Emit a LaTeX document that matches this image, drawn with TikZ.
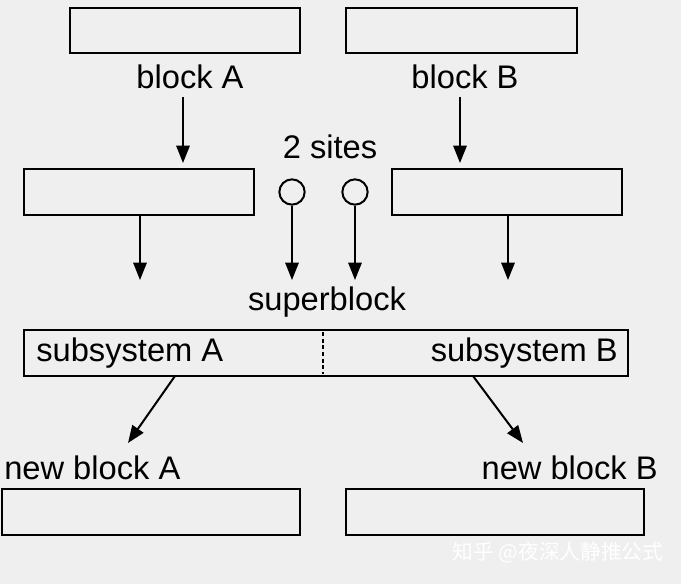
\documentclass[tikz,border=0pt]{standalone}
\usepackage{fontspec}
\setmainfont{Liberation Sans}
\newfontfamily\cjk{Noto Sans CJK SC}
\usetikzlibrary{arrows.meta}
\definecolor{bg}{HTML}{EFEFEF}
\tikzset{x=0.75pt,y=-0.75pt,
  blk/.style={draw,line width=1.5pt,fill=bg},
  arr/.style={line width=1.5pt,-{Triangle[length=13pt,width=10pt]}},
  lbl/.style={font=\fontsize{24.5}{28}\selectfont,inner sep=0pt}}
\begin{document}
\begin{tikzpicture}
\fill[bg] (0,0) rectangle (681,584);
\useasboundingbox (0,0) rectangle (681,584);
\node[blk,minimum width=172pt,minimum height=34pt] (tA) at (185,30.5) {};
\node[blk,minimum width=173pt,minimum height=34pt] (tB) at (461.5,30.5) {};
\node[lbl] (lA) at (190,77) {block A};
\node[lbl] (lB) at (465,77) {block B};
\coordinate (aA1) at (183,97); \coordinate (aA2) at (183,163);
\coordinate (aB1) at (460,97); \coordinate (aB2) at (460,163);
\draw[arr] (aA1)--(aA2); \draw[arr] (aB1)--(aB2);
\node[lbl] (sites) at (330,147) {2 sites};
\node[blk,minimum width=172.5pt,minimum height=34.5pt] (mA) at (139,192) {};
\node[blk,minimum width=172.5pt,minimum height=34.5pt] (mB) at (507,192) {};
\node[draw,line width=1.5pt,circle,minimum size=19pt,inner sep=0pt] (c1) at (292,192) {};
\node[draw,line width=1.5pt,circle,minimum size=19pt,inner sep=0pt] (c2) at (355,192) {};
\coordinate (e1) at (140,280); \coordinate (e2) at (292,280);
\coordinate (e3) at (355,280); \coordinate (e4) at (508,280);
\draw[arr] (140,215)--(e1);
\draw[arr] (c1)--(e2);
\draw[arr] (c2)--(e3);
\draw[arr] (508,215)--(e4);
\node[lbl] (sb) at (327,302) {superblock};
\node[blk,minimum width=453pt,minimum height=34.5pt] (sub) at (326,353) {};
\draw[line width=1.2pt,dash pattern=on 3pt off 2pt] (323,332)--(323,374);
\node[lbl,anchor=west] (sA) at (36,353) {subsystem A};
\node[lbl,anchor=east] (sB) at (618,353) {subsystem B};
\coordinate (n1) at (128,443); \coordinate (n2) at (523,443);
\draw[arr] (175,376)--(n1);
\draw[arr] (473,376)--(n2);
\node[lbl,anchor=west] (nA) at (4,468) {new block A};
\node[lbl,anchor=east] (nB) at (658,468) {new block B};
\node[blk,minimum width=223.5pt,minimum height=34.5pt] (bA) at (151,512) {};
\node[blk,minimum width=223.5pt,minimum height=34.5pt] (bB) at (495,512) {};
\node[font=\cjk\fontsize{15.5}{18}\selectfont,text=white,inner sep=0pt] (wm) at (558,553) {知乎 @夜深人静推公式};
\end{tikzpicture}
\end{document}
